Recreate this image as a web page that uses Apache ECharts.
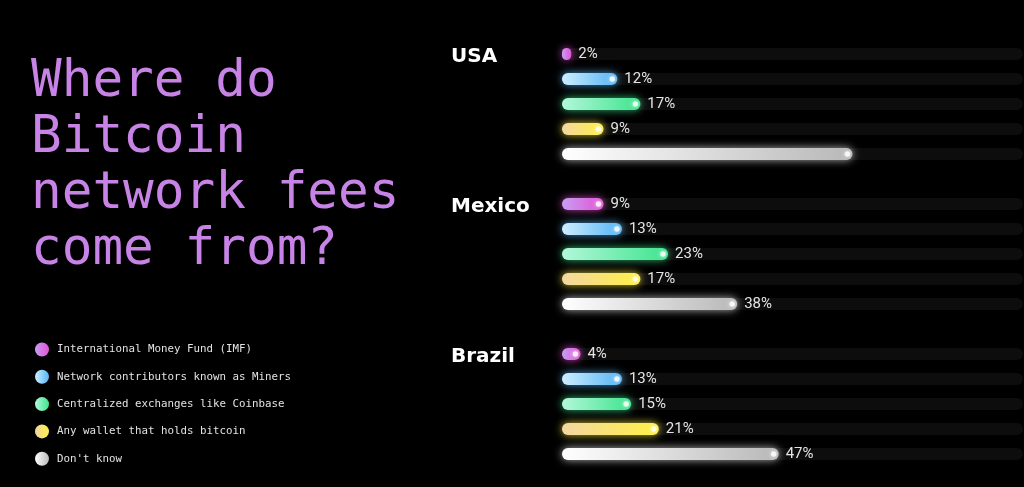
<!DOCTYPE html>
<html>
<head>
<meta charset="utf-8">
<script src="https://cdn.jsdelivr.net/npm/echarts@6/dist/echarts.min.js"></script>
<style>
html,body{margin:0;padding:0;background:#000;}
#chart{width:1024px;height:487px;}
</style>
</head>
<body>
<div id="chart"></div>
<script>
// ---- data ----
var titleText = 'Where do\nBitcoin\nnetwork fees\ncome from?';
var countries = ['USA', 'Mexico', 'Brazil'];
var answers = [
  'International Money Fund (IMF)',
  'Network contributors known as Miners',
  'Centralized exchanges like Coinbase',
  'Any wallet that holds bitcoin',
  "Don't know"
];
var usaValues    = [2, 12, 17, 9, 63];
var mexicoValues = [9, 13, 23, 17, 38];
var brazilValues = [4, 13, 15, 21, 47];
var usaLabels    = ['2%', '12%', '17%', '9%', ''];
var mexicoLabels = ['9%', '13%', '23%', '17%', '38%'];
var brazilLabels = ['4%', '13%', '15%', '21%', '47%'];
var trackMax = 100;

// ---- styles ----
var gradStops = [
  ['#c59ff2', '#e452d6'],
  ['#cdeeff', '#55b4f4'],
  ['#b3f7da', '#3ee48d'],
  ['#f4d6a2', '#fff045'],
  ['#ffffff', '#b8b8b8']
];
var glowColors = ['rgba(228,82,214,0.8)', 'rgba(85,180,244,0.8)', 'rgba(62,228,141,0.8)', 'rgba(255,240,69,0.8)', 'rgba(255,255,255,0.7)'];

var groups = [
  {name: countries[0], values: usaValues, labels: usaLabels},
  {name: countries[1], values: mexicoValues, labels: mexicoLabels},
  {name: countries[2], values: brazilValues, labels: brazilLabels}
];

// build slots: 5 rows per country, blank slot between groups
var slots = [];
groups.forEach(function (g, gi) {
  for (var k = 0; k < answers.length; k++) {
    slots.push({country: g.name, row: k, value: g.values[k], label: g.labels[k]});
  }
  if (gi < groups.length - 1) slots.push(null);
});
var slotNames = slots.map(function (s, i) { return 's' + i; });

function grad(k) {
  return new echarts.graphic.LinearGradient(0, 0, 1, 0, [
    {offset: 0, color: gradStops[k][0]},
    {offset: 1, color: gradStops[k][1]}
  ]);
}

var series = [];
// tracks
series.push({
  type: 'bar',
  name: 'track',
  silent: true,
  barWidth: 12,
  barGap: '-100%',
  z: 1,
  itemStyle: {color: '#0d0d0d', borderRadius: 6},
  data: slots.map(function (s) { return s ? trackMax : '-'; })
});
// answer series
answers.forEach(function (a, k) {
  series.push({
    type: 'bar',
    name: a,
    stack: 'v',
    barWidth: 12,
    barGap: '-100%',
    z: 3,
    itemStyle: {color: grad(k), borderRadius: 6, shadowBlur: 8, shadowColor: glowColors[k]},
    label: {
      show: true,
      position: 'right',
      distance: 7,
      color: '#e4e4e4',
      fontFamily: 'Roboto',
      fontSize: 15,
      formatter: function (p) {
        var s = slots[p.dataIndex];
        return s ? s.label : '';
      }
    },
    data: slots.map(function (s) { return (s && s.row === k) ? s.value : '-'; })
  });
});
// end dots
series.push({
  type: 'scatter',
  silent: true,
  z: 5,
  symbol: 'circle',
  symbolSize: 5.5,
  symbolOffset: [-5, 0],
  itemStyle: {color: '#ffffff', shadowBlur: 4, shadowColor: 'rgba(255,255,255,0.9)'},
  data: slots.map(function (s, i) { return (s && s.value >= 4) ? [s.value, slotNames[i]] : null; }).filter(function (d) { return d; })
});

var chart = echarts.init(document.getElementById('chart'));
chart.setOption({
  backgroundColor: '#000',
  animation: false,
  title: {
    text: titleText,
    left: 31,
    top: 55,
    padding: 0,
    textStyle: {
      color: '#c883e6',
      fontFamily: 'DejaVu Sans Mono',
      fontWeight: 'normal',
      fontSize: 51,
      lineHeight: 56
    }
  },
  legend: {
    orient: 'vertical',
    left: 35,
    top: 342.5,
    padding: 0,
    itemWidth: 14,
    itemHeight: 14,
    itemGap: 13.3,
    icon: 'circle',
    data: answers,
    textStyle: {
      color: '#e2e2e2',
      fontFamily: 'DejaVu Sans Mono',
      fontSize: 10.8,
      padding: [0, 0, 0, 3]
    }
  },
  grid: {left: 562, right: 1, top: 41.5, bottom: 20.5},
  xAxis: {
    type: 'value',
    min: 0,
    max: trackMax,
    show: false
  },
  yAxis: {
    type: 'category',
    inverse: true,
    data: slotNames,
    axisLine: {show: false},
    axisTick: {show: false},
    splitLine: {show: false},
    axisLabel: {
      interval: 0,
      align: 'left',
      margin: 111,
      formatter: function (v, i) {
        var s = slots[i];
        return (s && s.row === 0) ? '{c|' + s.country + '}' : '';
      },
      rich: {
        c: {
          color: '#ffffff',
          fontFamily: 'DejaVu Sans',
          fontWeight: 'bold',
          fontSize: 20,
          padding: [6, 0, 0, 0]
        }
      }
    }
  },
  series: series
});
</script>
</body>
</html>
